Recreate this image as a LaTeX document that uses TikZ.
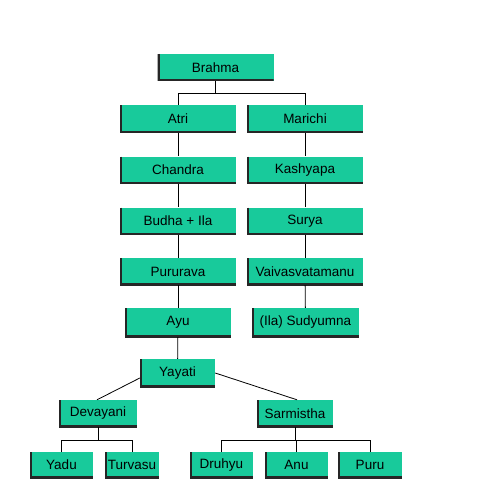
\documentclass[tikz,border=0pt]{standalone}
\usepackage{fontspec}
\setmainfont{Liberation Sans}
\usepackage{tikz}

\definecolor{boxgreen}{RGB}{24,202,155}

\begin{document}
\begin{tikzpicture}[x=1pt, y=-1pt, rectangle, font=\fontsize{13.5}{15}\selectfont, person/.style={fill=boxgreen, inner sep=0pt, minimum height=27pt, minimum width=116pt, path picture={\draw[black!85, line width=4pt] (path picture bounding box.north west) -- (path picture bounding box.south west) -- (path picture bounding box.south east);}}, link/.style={black, line width=0.8pt}]

\useasboundingbox (0,0) rectangle (500,500);

\node[person] (brahma) at (215.5, 67.5) {Brahma}; 
\node[person] (atri) at (178, 119) {Atri}; 
\node[person] (marichi) at (305, 119) {Marichi}; 
\node[person] (chandra) at (178, 170) {Chandra}; 
\node[person] (kashyapa) at (305, 170) {Kashyapa}; 
\node[person] (budha) at (178, 221) {Budha + Ila}; 
\node[person] (surya) at (305, 221) {Surya}; 
\node[person] (pururava) at (178, 271.5) {Pururava}; 
\node[person] (manu) at (305, 271.5) {Vaivasvatamanu}; 
\node[person, minimum width=106pt, minimum height=29pt] (ayu) at (178, 322.5) {Ayu}; 
\node[person, minimum width=107pt, minimum height=29pt] (sudyumna) at (305.5, 322.5) {(Ila) Sudyumna}; 
\node[person, minimum width=75pt, minimum height=28pt] (yayati) at (177.5, 373) {Yayati}; 
\node[person, minimum width=78pt] (devayani) at (98, 413.5) {Devayani}; 
\node[person, minimum width=76pt] (sarmistha) at (295, 413.5) {Sarmistha}; 
\node[person, minimum width=63pt, minimum height=26pt] (yadu) at (61.5, 465) {Yadu}; 
\node[person, minimum width=54pt, minimum height=26pt] (turvasu) at (132, 465) {Turvasu}; 
\node[person, minimum width=63pt, minimum height=26pt] (druhyu) at (221.5, 465) {Druhyu}; 
\node[person, minimum width=63pt, minimum height=26pt] (anu) at (296.5, 465) {Anu}; 
\node[person, minimum width=64pt, minimum height=26pt] (puru) at (370, 465) {Puru}; 

\draw [link] (brahma.south) -- ++(0,12) -| (atri.north); 
\draw [link] (brahma.south) -- ++(0,12) -| (marichi.north); 
\draw [link] (atri) -- (chandra); 
\draw [link] (chandra) -- (budha); 
\draw [link] (budha) -- (pururava); 
\draw [link] (pururava) -- (ayu); 
\draw [link] (ayu) -- (yayati); 
\draw [link] (marichi) -- (kashyapa); 
\draw [link] (kashyapa) -- (surya); 
\draw [link] (surya) -- (manu); 
\draw [link] (manu) -- (sudyumna); 
\draw [link] ([yshift=-5pt]yayati.west) -- ([xshift=-1pt]devayani.north); 
\draw [link] (yayati.east) -- ([xshift=2pt]sarmistha.north); 
\draw [link] (devayani.south) -- ++(0,13) -| (yadu.north); 
\draw [link] (devayani.south) -- ++(0,13) -| (turvasu.north); 
\draw [link] (sarmistha.south) -- ++(0,13) -| (druhyu.north); 
\draw [link] (sarmistha.south) -- ++(0,13) -| (anu.north); 
\draw [link] (sarmistha.south) -- ++(0,13) -| (puru.north); 

\end{tikzpicture}
\end{document}
